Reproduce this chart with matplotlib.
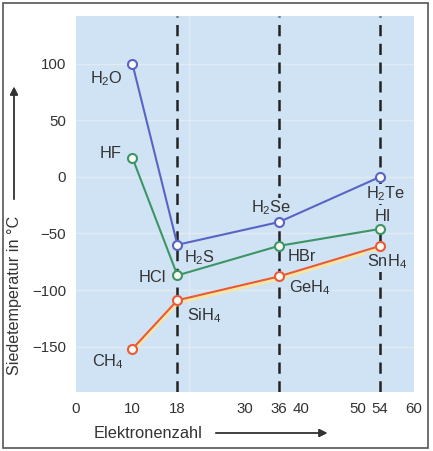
import matplotlib.pyplot as plt
from matplotlib.patches import Rectangle

plt.rcParams['font.family'] = ['Liberation Sans', 'DejaVu Sans']
plt.rcParams['mathtext.default'] = 'regular'

# Elektronenzahl
electrons = [10, 18, 36, 54]

# Siedetemperaturen
group16 = [100, -60, -40, 0]
group17 = [17, -87, -61, -46]
group14 = [-152, -109, -88, -61]

names16 = ['H$_2$O', 'H$_2$S', 'H$_2$Se', 'H$_2$Te']
names17 = ['HF', 'HCl', 'HBr', 'HI']
names14 = ['CH$_4$', 'SiH$_4$', 'GeH$_4$', 'SnH$_4$']

xticks = [0, 10, 18, 30, 36, 40, 50, 54, 60]
yticks = [-150, -100, -50, 0, 50, 100]

bg = '#d0e3f4'
W, H = 433, 451
fig = plt.figure(figsize=(W / 100, H / 100), dpi=100)
ax = fig.add_axes([76 / W, 1 - 392 / H, (414 - 76) / W, (392 - 16) / H])
ax.set_facecolor(bg)
ax.set_xlim(0, 60)
ax.set_ylim(-190, 142)

for s in ax.spines.values():
    s.set_visible(False)

ax.set_xticks(xticks)
ax.set_xticks([10, 20, 30, 40, 50], minor=True)
ax.set_yticks(yticks)
ax.tick_params(which='both', length=0, labelsize=10.8, colors='#333333')
ax.tick_params(axis='x', pad=7)
ax.tick_params(axis='y', pad=7)
ax.grid(which='minor', axis='x', color='#e2eaf3', lw=1)
ax.grid(which='major', axis='y', color='#e2eaf3', lw=1)

# Edelgas-Linien
for x in electrons[1:]:
    ax.axvline(x, color='#222222', lw=1.8, linestyle=(0, (4.5, 3.0)), zorder=2)

ax.plot(electrons, [v - 1.5 for v in group14], color='#f6e6a6', lw=3.5, zorder=2.5,
        solid_capstyle='round')
series = [
    (group16, '#5865c4', names16, [(-26, -15), (22, -13), (-8, 14), (5, -17)]),
    (group17, '#3d9566', names17, [(-22, 4), (-25, -2), (23, -11), (3, 12)]),
    (group14, '#e85a3a', names14, [(-24, -13), (27, -15), (31, -11), (7, -16)]),
]
for vals, col, names, offs in series:
    ax.plot(electrons, vals, color=col, lw=1.5, marker='o', ms=6.5,
            mfc='#fbfbf4', mec=col, mew=1.5, zorder=4)
    for x, y, n, o in zip(electrons, vals, names, offs):
        ax.annotate(n, (x, y), xytext=o, textcoords='offset pixels',
                    ha='center', va='center', fontsize=11.8, color='#333333', zorder=3,
                    bbox=dict(boxstyle='square,pad=0.05', fc=bg, ec='none'))

# Achsenbeschriftungen mit Pfeilen
fig.text(15 / W, 1 - 295 / H, 'Siedetemperatur in °C', rotation=90,
         ha='center', va='center', fontsize=11.6, color='#333333')
fig.text(148 / W, 1 - 433 / H, 'Elektronenzahl', ha='center', va='center',
         fontsize=11.8, color='#333333')
fig.add_artist(plt.annotate('', xy=(14 / W, 1 - 84 / H), xytext=(14 / W, 1 - 202 / H),
                            xycoords='figure fraction', textcoords='figure fraction',
                            arrowprops=dict(arrowstyle='-|>', color='#333333', lw=1,
                                            mutation_scale=12)))
fig.add_artist(plt.annotate('', xy=(330 / W, 1 - 433 / H), xytext=(213 / W, 1 - 433 / H),
                            xycoords='figure fraction', textcoords='figure fraction',
                            arrowprops=dict(arrowstyle='-|>', color='#333333', lw=1,
                                            mutation_scale=12)))

fig.add_artist(Rectangle((3 / W, 3 / H), 425 / W, 445 / H, transform=fig.transFigure,
                         fill=False, ec='#555555', lw=1.2))

fig.savefig('out.png', dpi=100)
